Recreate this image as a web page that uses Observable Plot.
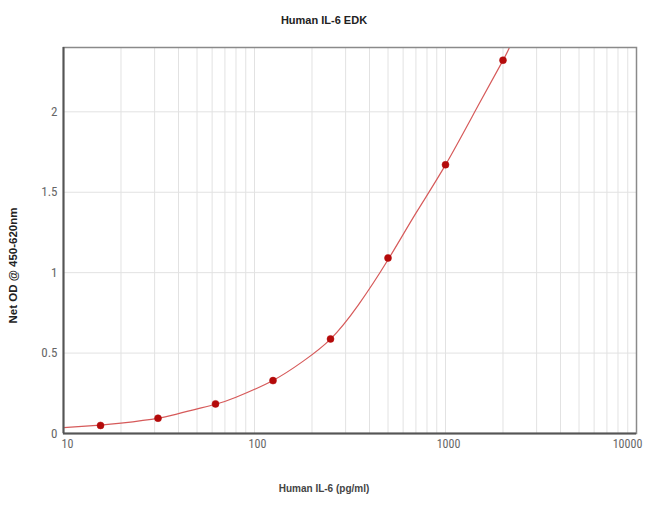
<!DOCTYPE html>
<html>
<head>
<meta charset="utf-8">
<script src="https://cdn.jsdelivr.net/npm/d3@7"></script>
<script src="https://cdn.jsdelivr.net/npm/@observablehq/plot@0.6"></script>
<style>
  html, body { margin: 0; padding: 0; background: #fff; }
  #chart { width: 650px; height: 509px; }
</style>
</head>
<body>
<div id="chart"></div>
<script>
// ---- Data ----
const title = "Human IL-6 EDK";
const xLabel = "Human IL-6 (pg/ml)";
const yLabel = "Net OD @ 450-620nm";

// Standard points (concentration, pg/ml) and measured OD
const stdConc = [15.625, 31.25, 62.5, 125, 250, 500, 1000, 2000];
const stdOD   = [0.050, 0.095, 0.184, 0.329, 0.588, 1.091, 1.671, 2.321];

// Fitted curve at several concentrations
const curveConc = [10, 15.6, 20, 31.25, 40, 62.5, 80, 125, 180, 250, 350, 500, 700, 1000, 1500, 2000, 2160];
const curveOD   = [0.037, 0.052, 0.064, 0.094, 0.124, 0.182, 0.225, 0.330, 0.450, 0.587, 0.800, 1.080, 1.370, 1.670, 2.050, 2.320, 2.400];

// Axis ticks
const xTicks = [10, 100, 1000, 10000];
const xTickLabels = ["10", "100", "1000", "10000"];
const yTicks = [0, 0.5, 1, 1.5, 2];
const yTickLabels = ["0", "0.5", "1", "1.5", "2"];
const xGrid = [20,30,40,50,60,70,80,90,100,200,300,400,500,600,700,800,900,1000,2000,3000,4000,5000,6000,7000,8000,9000];
const yGrid = [0.5, 1, 1.5, 2];

// ---- Build tables ----
const points = stdConc.map((c, i) => ({conc: c, od: stdOD[i]}));
const curve = curveConc.map((c, i) => ({conc: c, od: curveOD[i]}));
const xLab = xTicks.map((t, i) => ({t, label: xTickLabels[i]}));
const yLab = yTicks.map((t, i) => ({t, label: yTickLabels[i]}));

const tickFont = "'Liberation Sans Narrow', 'Roboto Condensed', 'Liberation Sans', Arial, sans-serif";

const chart = Plot.plot({
  width: 650,
  height: 509,
  marginTop: 47,
  marginBottom: 76,
  marginLeft: 63,
  marginRight: 14,
  style: {fontFamily: "'Liberation Sans', Arial, sans-serif", background: "#fff"},
  x: {type: "log", domain: [10, 10000], axis: null},
  y: {domain: [0, 2.4], axis: null},
  marks: [
    Plot.ruleX(xGrid, {stroke: "#e2e2e2", strokeWidth: 1}),
    Plot.ruleY(yGrid, {stroke: "#e2e2e2", strokeWidth: 1}),
    Plot.line(curve, {x: "conc", y: "od", stroke: "#d65a5a", strokeWidth: 1.2, curve: "natural", clip: true}),
    Plot.dot(points, {x: "conc", y: "od", r: 3.5, fill: "#b40a0a", stroke: "#b40a0a", strokeWidth: 0.5}),
    Plot.frame({stroke: "#8a8a8a", strokeWidth: 1.5}),
    Plot.ruleX([10], {stroke: "#555", strokeWidth: 2}),
    Plot.ruleY([0], {stroke: "#555", strokeWidth: 2}),
    // y tick labels
    Plot.text(yLab, {x: 10, y: "t", text: "label", textAnchor: "end", dx: -6, fill: "#666", fontSize: 13, fontFamily: tickFont}),
    // x tick labels
    Plot.text(xLab.slice(0, 1), {x: "t", y: 0, text: "label", dx: 4, dy: 11, fill: "#666", fontSize: 12, fontFamily: tickFont}),
    Plot.text(xLab.slice(1, 3), {x: "t", y: 0, text: "label", dx: 3, dy: 11, fill: "#666", fontSize: 12, fontFamily: tickFont}),
    Plot.text(xLab.slice(3), {x: "t", y: 0, text: "label", dx: -9, dy: 11, fill: "#666", fontSize: 12, fontFamily: tickFont}),
    // titles
    Plot.text([title], {frameAnchor: "top", dx: -26, dy: -31, fontWeight: "bold", fontSize: 11, fill: "#222"}),
    Plot.text([xLabel], {frameAnchor: "bottom", dx: -26, dy: 58, fontWeight: "bold", fontSize: 10, fill: "#444"}),
    Plot.text([yLabel], {frameAnchor: "left", textAnchor: "middle", rotate: -90, dx: -50, dy: 25, fontWeight: "bold", fontSize: 11.5, fill: "#222"})
  ]
});
document.getElementById("chart").appendChild(chart);
</script>
</body>
</html>
